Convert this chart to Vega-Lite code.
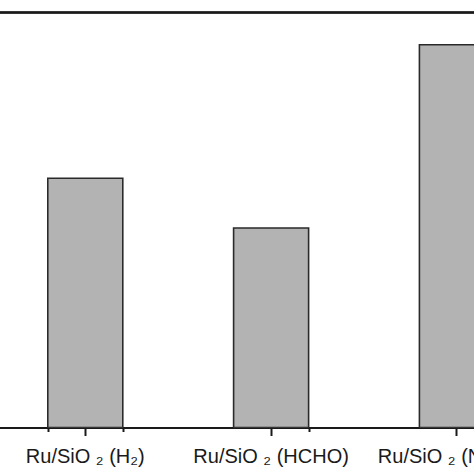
{
  "$schema": "https://vega.github.io/schema/vega-lite/v6.json",
  "width": 474,
  "height": 415,
  "autosize": "none",
  "padding": {"top": 12.5, "left": 0, "right": 0, "bottom": 46.5},
  "background": "white",
  "data": {"values": [
    {"catalyst": "Ru/SiO ₂ (H₂)", "value": 249.2},
    {"catalyst": "Ru/SiO ₂ (HCHO)", "value": 199.5},
    {"catalyst": "Ru/SiO ₂ (NaBH₄)", "value": 382.8}
  ]},
  "layer": [
    {
      "mark": {"type": "bar", "fill": "#b3b3b3", "stroke": "#2a2a2a", "strokeWidth": 1.6, "clip": true},
      "encoding": {
        "x": {
          "field": "catalyst", "type": "nominal", "sort": null,
          "scale": {"range": [-7.6, 549.8], "paddingInner": 0.5963, "paddingOuter": 0.298},
          "axis": {
            "orient": "bottom", "title": null, "labelAngle": 0,
            "domainColor": "#1a1a1a", "domainWidth": 2,
            "tickColor": "#1a1a1a", "tickWidth": 2, "tickSize": 8,
            "labelFont": "Liberation Sans", "labelFontSize": 20, "labelColor": "#1a1a1a",
            "labelPadding": 11, "labelBaseline": "top", "labelOverlap": false, "labelBound": false, "labelFlush": false
          }
        },
        "y": {"field": "value", "type": "quantitative", "scale": {"domain": [0, 415], "nice": false}, "axis": null}
      }
    },
    {
      "mark": {"type": "bar", "opacity": 0},
      "encoding": {
        "x": {
          "field": "catalyst", "type": "nominal", "sort": null,
          "axis": {
            "orient": "bottom", "title": null, "labels": false, "domain": false,
            "tickBand": "extent", "tickColor": "#1a1a1a", "tickWidth": 2, "tickSize": 4
          }
        },
        "y": {"field": "value", "type": "quantitative"}
      }
    },
    {
      "mark": {"type": "rule", "color": "#1a1a1a", "strokeWidth": 2},
      "encoding": {"y": {"datum": 415}}
    }
  ],
  "resolve": {"axis": {"x": "independent"}},
  "config": {"view": {"stroke": null}}
}
